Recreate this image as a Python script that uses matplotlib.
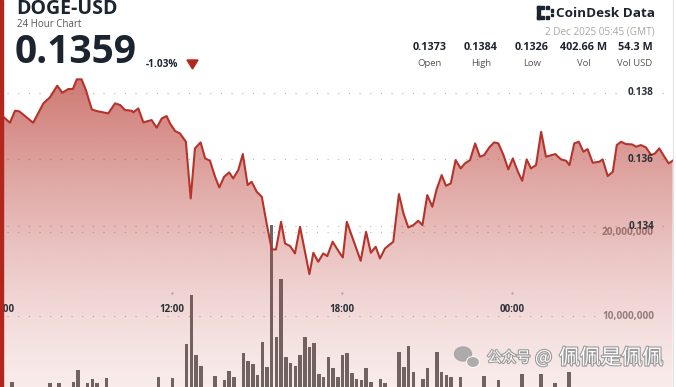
import numpy as np
import matplotlib
matplotlib.use('Agg')
import matplotlib.pyplot as plt
import matplotlib.transforms as mtransforms
from matplotlib.patches import Rectangle, Ellipse, Polygon
import matplotlib.patheffects as pe

plt.rcParams['font.family'] = ['Open Sans', 'Noto Sans CJK SC', 'DejaVu Sans']

# ---- data ----
# price line, time in hours since 1 Dec 00:00 (GMT)
price_hours = [6.04, 6.28, 6.46, 6.61, 7.10, 7.46, 7.69, 7.95, 8.13, 8.34,
               8.50, 8.64, 8.81, 8.96, 9.17, 9.34, 9.75, 9.99, 10.17, 10.34,
               10.58, 10.63, 10.81, 10.99, 11.28, 11.46, 11.64, 11.81, 11.93, 12.11,
               12.28, 12.49, 12.66, 12.81, 13.01, 13.17, 13.34, 13.52, 13.67, 13.84,
               14.02, 14.16, 14.34, 14.50, 14.67, 14.81, 14.99, 15.17, 15.34, 15.52,
               15.67, 15.85, 15.99, 16.17, 16.34, 16.52, 16.85, 16.99, 17.16, 17.34,
               17.48, 17.67, 17.93, 18.03, 18.17, 18.40, 18.66, 18.85, 19.02, 19.19,
               19.34, 19.52, 19.81, 20.01, 20.17, 20.34, 20.52, 20.69, 20.84, 21.01,
               21.19, 21.34, 21.52, 21.67, 21.84, 22.01, 22.19, 22.34, 22.52, 22.70,
               22.87, 23.02, 23.20, 23.37, 23.52, 23.70, 23.87, 24.03, 24.21, 24.36,
               24.52, 24.67, 24.85, 25.03, 25.20, 25.53, 25.73, 25.91, 26.03, 26.20,
               26.36, 26.52, 26.67, 26.85, 27.08, 27.20, 27.38, 27.56, 27.70, 27.85,
               28.02, 28.24, 28.38, 28.55, 28.73, 28.91, 29.05, 29.20, 29.38, 29.53,
               29.67]
prices = [0.13728, 0.13710, 0.13746, 0.13744, 0.13710, 0.13768, 0.13786, 0.13821, 0.13800, 0.13811,
          0.13811, 0.13840, 0.13840, 0.13808, 0.13750, 0.13745, 0.13738, 0.13768, 0.13763, 0.13748,
          0.13746, 0.13741, 0.13753, 0.13711, 0.13718, 0.13695, 0.13723, 0.13730, 0.13708, 0.13685,
          0.13678, 0.13653, 0.13483, 0.13633, 0.13651, 0.13603, 0.13596, 0.13548, 0.13516, 0.13548,
          0.13561, 0.13543, 0.13568, 0.13616, 0.13523, 0.13533, 0.13503, 0.13488, 0.13408, 0.13330,
          0.13330, 0.13413, 0.13348, 0.13340, 0.13318, 0.13398, 0.13256, 0.13320, 0.13293, 0.13318,
          0.13310, 0.13353, 0.13318, 0.13306, 0.13413, 0.13358, 0.13296, 0.13383, 0.13320, 0.13338,
          0.13303, 0.13333, 0.13353, 0.13496, 0.13438, 0.13396, 0.13403, 0.13416, 0.13403, 0.13493,
          0.13458, 0.13510, 0.13553, 0.13521, 0.13528, 0.13598, 0.13573, 0.13588, 0.13598, 0.13648,
          0.13608, 0.13613, 0.13636, 0.13651, 0.13648, 0.13613, 0.13570, 0.13603, 0.13563, 0.13536,
          0.13600, 0.13573, 0.13583, 0.13683, 0.13608, 0.13616, 0.13600, 0.13596, 0.13583, 0.13648,
          0.13653, 0.13623, 0.13631, 0.13590, 0.13593, 0.13600, 0.13550, 0.13563, 0.13643, 0.13653,
          0.13646, 0.13645, 0.13638, 0.13643, 0.13636, 0.13613, 0.13618, 0.13633, 0.13608, 0.13588,
          0.13596]

# volume per 10-minute bar (millions), starting 06:00
vol_start = 6.0
volumes_m = [1.4, 1.3, 2.1, 1.2, 1.1, 1.3, 1.2, 1.0, 1.1, 1.3,
             2.06, 1.2, 2.06, 1.1, 1.3, 2.18, 3.57, 1.4, 2.06, 2.5,
             2.02, 1.3, 2.58, 1.2, 1.1, 1.0, 1.2, 1.1, 1.3, 1.0,
             1.2, 1.4, 1.3, 2.7, 1.2, 1.4, 2.58, 1.3, 1.5, 6.67,
             12.5, 5.3, 4.05, 1.4, 1.2, 2.9, 1.5, 2.44, 3.45, 2.74,
             1.5, 5.56, 4.68, 4.29, 3.0, 6.9, 3.96, 20.87, 7.54, 14.37,
             5.06, 4.46, 4.05, 5.3, 7.54, 6.35, 6.75, 3.06, 2.77, 5.15,
             3.85, 2.77, 5.36, 5.56, 3.18, 2.46, 2.38, 3.85, 2.18, 1.5,
             2.46, 2.06, 1.4, 1.3, 5.75, 3.89, 6.43, 3.37, 1.5, 2.5,
             3.85, 1.4, 5.68, 3.37, 2.98, 2.77, 1.5, 2.7, 1.4, 1.3,
             1.5, 1.4, 2.9, 1.3, 1.2, 2.38, 1.3, 1.2, 1.4, 1.3,
             3.1, 1.2, 1.3, 1.4, 3.1, 1.2, 1.3, 2.06, 1.2, 1.4,
             3.37, 1.3, 1.2, 1.1, 1.3, 1.2, 1.0, 1.1, 1.2, 1.0,
             1.1, 1.2, 1.0, 0.9, 1.1, 1.0, 1.2, 0.9, 1.0, 1.1,
             1.0, 0.9, 1.0]

price_ticks = [0.138, 0.136, 0.134]
vol_ticks = [20e6, 10e6]
time_ticks = [6, 12, 18, 24]
time_labels = ['06:00', '12:00', '18:00', '00:00']

stat_values = ['0.1373', '0.1384', '0.1326', '402.66 M', '54.3 M']
stat_names = ['Open', 'High', 'Low', 'Vol', 'Vol USD']

W, H = 676, 387
dark = '#1c2430'
red = '#b5332b'

def fx(x):
    return x / W

def fy(y):
    return 1 - y / H

fig = plt.figure(figsize=(W / 100, H / 100), dpi=100, facecolor='white')

ax_vol = fig.add_axes([0, 0, 1, 1])
ax_vol.axis('off')
ax_vol.set_xlim(5.929, 29.79)
ax_vol.set_ylim(1.548e6, 47.62e6)

ax = ax_vol.twinx()
ax.axis('off')
ax.set_ylim(0.129175, 0.14078)

# volume bars (under the price fill)
vol_hours = vol_start + np.arange(len(volumes_m)) / 6.0
ax_vol.bar(vol_hours + 0.02, np.array(volumes_m) * 1e6, width=0.125,
           color='#686868', edgecolor='none', zorder=2)

dots = dict(color='#b5b5b5', lw=0.8, linestyle=(0, (1, 8.6)))
for v in vol_ticks:
    ax_vol.axhline(v, xmin=7 / W, xmax=597 / W, zorder=1, **dots)
    ax_vol.text(654 / W, v, '{:,.0f}'.format(v), transform=mtransforms.blended_transform_factory(ax_vol.transAxes, ax_vol.transData),
                ha='right', va='center', fontsize=7.3, fontweight='bold', color='#8c8c8c', zorder=5)

for p in price_ticks:
    ax.axhline(p, xmin=7 / W, xmax=622 / W, zorder=1, **dots)
    ax.axhline(p, xmin=662 / W, xmax=672 / W, zorder=1, **dots)

# price fill with vertical gradient
ybot = ax.get_ylim()[0]
fill = ax.fill_between(price_hours, prices, ybot, facecolor='none', edgecolor='none')
n = 400
ypix = np.linspace(0, H, n)
t = np.clip((H - ypix) / 307.0, 0, 1)
alpha = 0.1 + 0.58 * t ** 1.3
grad = np.zeros((n, 1, 4))
grad[:, 0, 0] = 185 / 255
grad[:, 0, 1] = 58 / 255
grad[:, 0, 2] = 50 / 255
grad[:, 0, 3] = alpha
x0, x1 = ax.get_xlim()
y0, y1 = ax.get_ylim()
im = ax.imshow(grad, extent=[x0, x1, y0, y1], aspect='auto', origin='upper', zorder=2, interpolation='bilinear')
im.set_clip_path(fill.get_paths()[0], transform=ax.transData)
ax.set_xlim(x0, x1)
ax.set_ylim(y0, y1)

ax.plot(price_hours, prices, color=red, lw=1.5, zorder=4, solid_joinstyle='round')

for p in price_ticks:
    ax.text(654 / W, p, '%.3f' % p, transform=mtransforms.blended_transform_factory(ax.transAxes, ax.transData),
            ha='right', va='center', fontsize=7.2, fontweight='bold', color='#2a2f38', zorder=6)

# time axis labels inside the chart
tr = mtransforms.blended_transform_factory(ax.transData, fig.transFigure)
for h, lab in zip(time_ticks, time_labels):
    ax.plot([h], [fy(292.7)], marker='s', ms=1.3, color='#9a9a9a', mec='none', transform=tr, zorder=6)
    ax.text(h, fy(309), lab, transform=tr, ha='center', va='center', fontsize=7,
            fontweight='bold', color='#2a2f38', zorder=6)

# header
fig.text(fx(16), fy(9.5), 'DOGE-USD', fontsize=14, fontweight='bold', color=dark, va='center')
fig.text(fx(17), fy(24.5), '24 Hour Chart', fontsize=7, color='#555555', va='center')
fig.text(fx(15), fy(52.5), '0.1359', fontsize=28, fontweight='bold', color=dark, va='center')
fig.text(fx(146), fy(64.5), '-1.03%', fontsize=7.3, fontweight='bold', color=dark, va='center')
fig.patches.append(Polygon([[fx(187), fy(60)], [fx(198), fy(60)], [fx(192.5), fy(69)]],
                           closed=True, transform=fig.transFigure, color='#b3261e'))

# CoinDesk logo
for (lx, ly, lw_, lh) in [(537, 6, 3, 13), (537, 6, 7, 3), (537, 16, 7, 3),
                          (546, 6, 3, 3), (546, 16, 3, 3), (550.5, 9, 2.5, 2.5), (550.5, 13.5, 2.5, 2.5)]:
    fig.patches.append(Rectangle((fx(lx), fy(ly + lh)), lw_ / W, lh / H,
                                 transform=fig.transFigure, color=dark))
fig.text(fx(655), fy(13.5), 'CoinDesk Data', fontsize=9.7, fontweight='bold', color=dark,
         ha='right', va='center')
fig.text(fx(655), fy(32), '2 Dec 2025 05:45 (GMT)', fontsize=7.2, color='#a8a8a8',
         ha='right', va='center')

stat_x = [430, 481, 532, 584, 635]
for sx, val, name in zip(stat_x, stat_values, stat_names):
    fig.text(fx(sx), fy(48), val, fontsize=7.8, fontweight='bold', color=dark, ha='center', va='center')
    fig.text(fx(sx), fy(63), name, fontsize=6.8, color='#555555', ha='center', va='center')

# frame accents
fig.patches.append(Rectangle((0, 0), 3 / W, 1, transform=fig.transFigure, color='#b3261e', zorder=10))
fig.lines.append(plt.Line2D([fx(673), fx(673)], [0, 1], transform=fig.transFigure, color='#e2e2e2', lw=0.8))

# watermark
fig.patches.append(Ellipse((fx(463), fy(354)), 17 / W, 14 / H, transform=fig.transFigure, color='#a5a5a5', alpha=0.9, zorder=8))
fig.patches.append(Ellipse((fx(473), fy(362)), 13 / W, 11 / H, transform=fig.transFigure, color='#a5a5a5', alpha=0.9,
                           ec='white', lw=0.8, zorder=8))
cjk = ['Noto Sans CJK SC', 'DejaVu Sans']
stroke = [pe.withStroke(linewidth=1.6, foreground='#9a9a9a')]
for x_, s_, fs_ in [(487, '公众号', 10.5), (535, '@', 13), (559, '佩佩是佩佩', 15)]:
    wm = fig.text(fx(x_), fy(358), s_, fontsize=fs_, color='white', va='center', family=cjk, zorder=9)
    wm.set_path_effects(stroke)

fig.savefig('out.png', dpi=100, facecolor='white')
